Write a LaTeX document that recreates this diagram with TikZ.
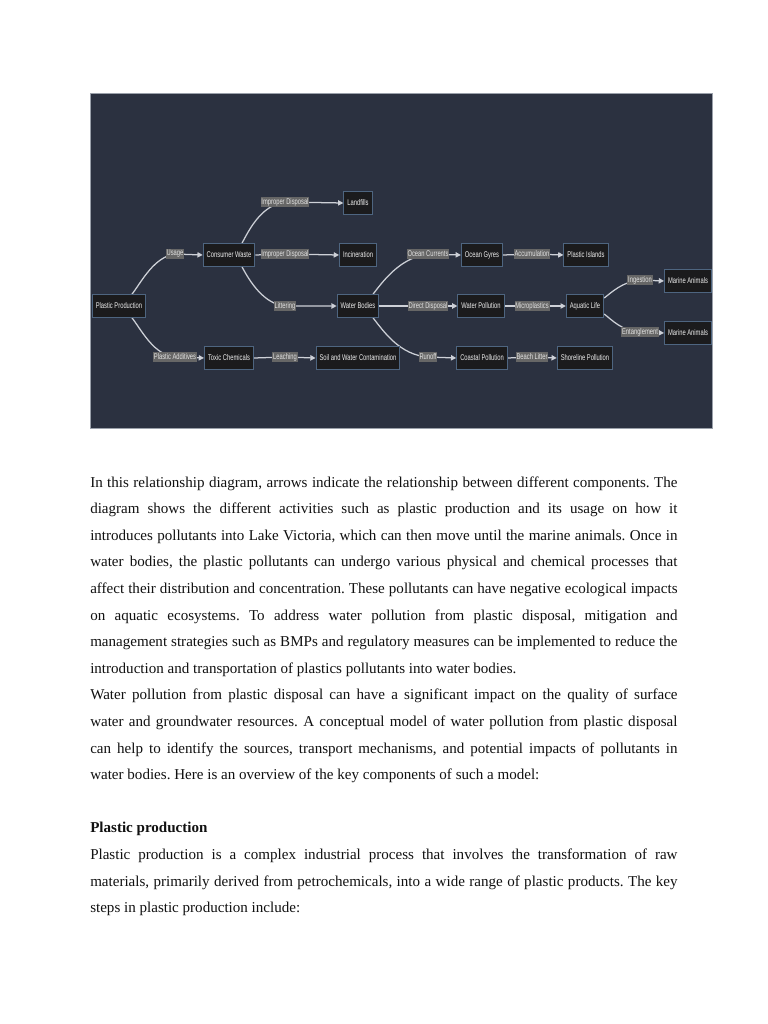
\documentclass[tikz,border=0pt]{standalone}
\usepackage{fontspec}
\setmainfont{Liberation Serif}
\newfontfamily\dfont[FakeStretch=0.7]{Liberation Sans}
\usetikzlibrary{arrows.meta}
\frenchspacing
\definecolor{bgc}{HTML}{2B3140}
\definecolor{bgborder}{HTML}{9AA0AA}
\definecolor{boxf}{HTML}{1B1B1D}
\definecolor{boxd}{HTML}{4E6580}
\definecolor{edgec}{HTML}{CDD0D7}
\definecolor{lblf}{HTML}{666666}
\definecolor{lblt}{HTML}{E2E2E2}
\definecolor{boxt}{HTML}{EDEDED}
\definecolor{txt}{HTML}{111111}
\pgfdeclarelayer{bglayer}
\pgfdeclarelayer{edgelayer}
\pgfsetlayers{bglayer,edgelayer,main}
\tikzset{
 box/.style={draw=boxd, fill=boxf, line width=0.8pt, text=boxt, font=\dfont\fontsize{6.6}{7}\selectfont, minimum height=18pt, inner xsep=2.8pt, inner ysep=0pt},
 lbl/.style={fill=lblf, text=lblt, font=\dfont\fontsize{6.6}{7}\selectfont, inner xsep=0.6pt, inner ysep=0.8pt, minimum height=7.5pt},
 edge/.style={draw=edgec, line width=1pt, -{Triangle[length=4.2pt,width=4.2pt]}},
 para/.style={anchor=base west, inner sep=0pt, text=txt, font=\fontsize{12}{14}\selectfont},
}
\begin{document}
\begin{tikzpicture}[x=0.796875pt, y=-0.796875pt]
\useasboundingbox (0,0) rectangle (768,1024);
\begin{pgfonlayer}{bglayer}
\fill[white] (0,0) rectangle (768,1024);
\draw[fill=bgc, draw=bgborder, line width=0.5pt] (90.5,93.5) rectangle (712,428);
\end{pgfonlayer}

% nodes
\node[box] (pp) at (119,306) {Plastic Production};
\node[box] (cw) at (229,255) {Consumer Waste};
\node[box] (tc) at (229,358) {Toxic Chemicals};
\node[box] (lf) at (358,203) {Landfills};
\node[box] (inc) at (358,255) {Incineration};
\node[box] (wb) at (358,306) {Water Bodies};
\node[box] (soil) at (358,358) {Soil and Water Contamination};
\node[box] (og) at (482,255) {Ocean Gyres};
\node[box] (wp) at (481,306) {Water Pollution};
\node[box] (cp) at (482,358) {Coastal Pollution};
\node[box] (pi) at (586,255) {Plastic Islands};
\node[box] (al) at (585,306) {Aquatic Life};
\node[box] (sp) at (585,358) {Shoreline Pollution};
\node[box] (ma1) at (688,281) {Marine Animals};
\node[box] (ma2) at (688,333) {Marine Animals};

% labels
\node[lbl] (usage) at (175,254) {Usage};
\node[lbl] (padd) at (175,357) {Plastic Additives};
\node[lbl] (idtop) at (285,202) {Improper Disposal};
\node[lbl] (idmid) at (285,254) {Improper Disposal};
\node[lbl] (litt) at (285,306) {Littering};
\node[lbl] (leach) at (285,357) {Leaching};
\node[lbl] (ocur) at (428,254) {Ocean Currents};
\node[lbl] (ddisp) at (428,306) {Direct Disposal};
\node[lbl] (runoff) at (428,357) {Runoff};
\node[lbl] (accum) at (532,254) {Accumulation};
\node[lbl] (micro) at (532,306) {Microplastics};
\node[lbl] (beach) at (532,357) {Beach Litter};
\node[lbl] (ingest) at (640,280) {Ingestion};
\node[lbl] (entang) at (640,332) {Entanglement};

% edges
\begin{pgfonlayer}{edgelayer}
\draw[edge] ([shift={(13,0)}]pp.north) .. controls (142,281) and (154,257) .. (usage.center) -- (cw.west);
\draw[edge] ([shift={(13,0)}]pp.south) .. controls (142,331) and (154,355) .. (padd.center) -- (tc.west);
\draw[edge] ([shift={(13,0)}]cw.north) .. controls (250,228) and (262,205) .. (idtop.center) -- (lf.west);
\draw[edge] (cw.east) -- (idmid.center) -- (inc.west);
\draw[edge] ([shift={(13,0)}]cw.south) .. controls (250,282) and (264,304) .. (litt.center) -- (wb.west);
\draw[edge] (tc.east) -- (leach.center) -- (soil.west);
\draw[edge] ([shift={(15,0)}]wb.north) .. controls (384,280) and (400,258) .. (ocur.center) -- (og.west);
\draw[edge] (wb.east) -- (ddisp.center) -- (wp.west);
\draw[edge] ([shift={(15,0)}]wb.south) .. controls (384,332) and (400,355) .. (runoff.center) -- (cp.west);
\draw[edge] (og.east) -- (accum.center) -- (pi.west);
\draw[edge] (wp.east) -- (micro.center) -- (al.west);
\draw[edge] (cp.east) -- (beach.center) -- (sp.west);
\draw[edge] ([shift={(0,-8)}]al.east) .. controls (612,292) and (622,282) .. (ingest.center) -- (ma1.west);
\draw[edge] ([shift={(0,8)}]al.east) .. controls (612,320) and (622,331) .. (entang.center) -- (ma2.west);
\end{pgfonlayer}

% text
\node[para] (l1) at (90,487) {\makebox[468pt][s]{In this relationship diagram, arrows indicate the relationship between different components. The}};
\node[para] (l2) at (90,513.6) {\makebox[468pt][s]{diagram shows the different activities such as plastic production and its usage on how it}};
\node[para] (l3) at (90,540.2) {\makebox[468pt][s]{introduces pollutants into Lake Victoria, which can then move until the marine animals. Once in}};
\node[para] (l4) at (90,566.8) {\makebox[468pt][s]{water bodies, the plastic pollutants can undergo various physical and chemical processes that}};
\node[para] (l5) at (90,593.4) {\makebox[468pt][s]{affect their distribution and concentration. These pollutants can have negative ecological impacts}};
\node[para] (l6) at (90,620) {\makebox[468pt][s]{on aquatic ecosystems. To address water pollution from plastic disposal, mitigation and}};
\node[para] (l7) at (90,646.6) {\makebox[468pt][s]{management strategies such as BMPs and regulatory measures can be implemented to reduce the}};
\node[para] (l8) at (90,673.2) {introduction and transportation of plastics pollutants into water bodies.};
\node[para] (l9) at (90,699.8) {\makebox[468pt][s]{Water pollution from plastic disposal can have a significant impact on the quality of surface}};
\node[para] (l10) at (90,726.4) {\makebox[468pt][s]{water and groundwater resources. A conceptual model of water pollution from plastic disposal}};
\node[para] (l11) at (90,753) {\makebox[468pt][s]{can help to identify the sources, transport mechanisms, and potential impacts of pollutants in}};
\node[para] (l12) at (90,779.6) {water bodies. Here is an overview of the key components of such a model:};
\node[para] (l14) at (90,832.8) {\textbf{Plastic production}};
\node[para] (l15) at (90,859.4) {\makebox[468pt][s]{Plastic production is a complex industrial process that involves the transformation of raw}};
\node[para] (l16) at (90,886) {\makebox[468pt][s]{materials, primarily derived from petrochemicals, into a wide range of plastic products. The key}};
\node[para] (l17) at (90,912.6) {steps in plastic production include:};
\end{tikzpicture}
\end{document}
